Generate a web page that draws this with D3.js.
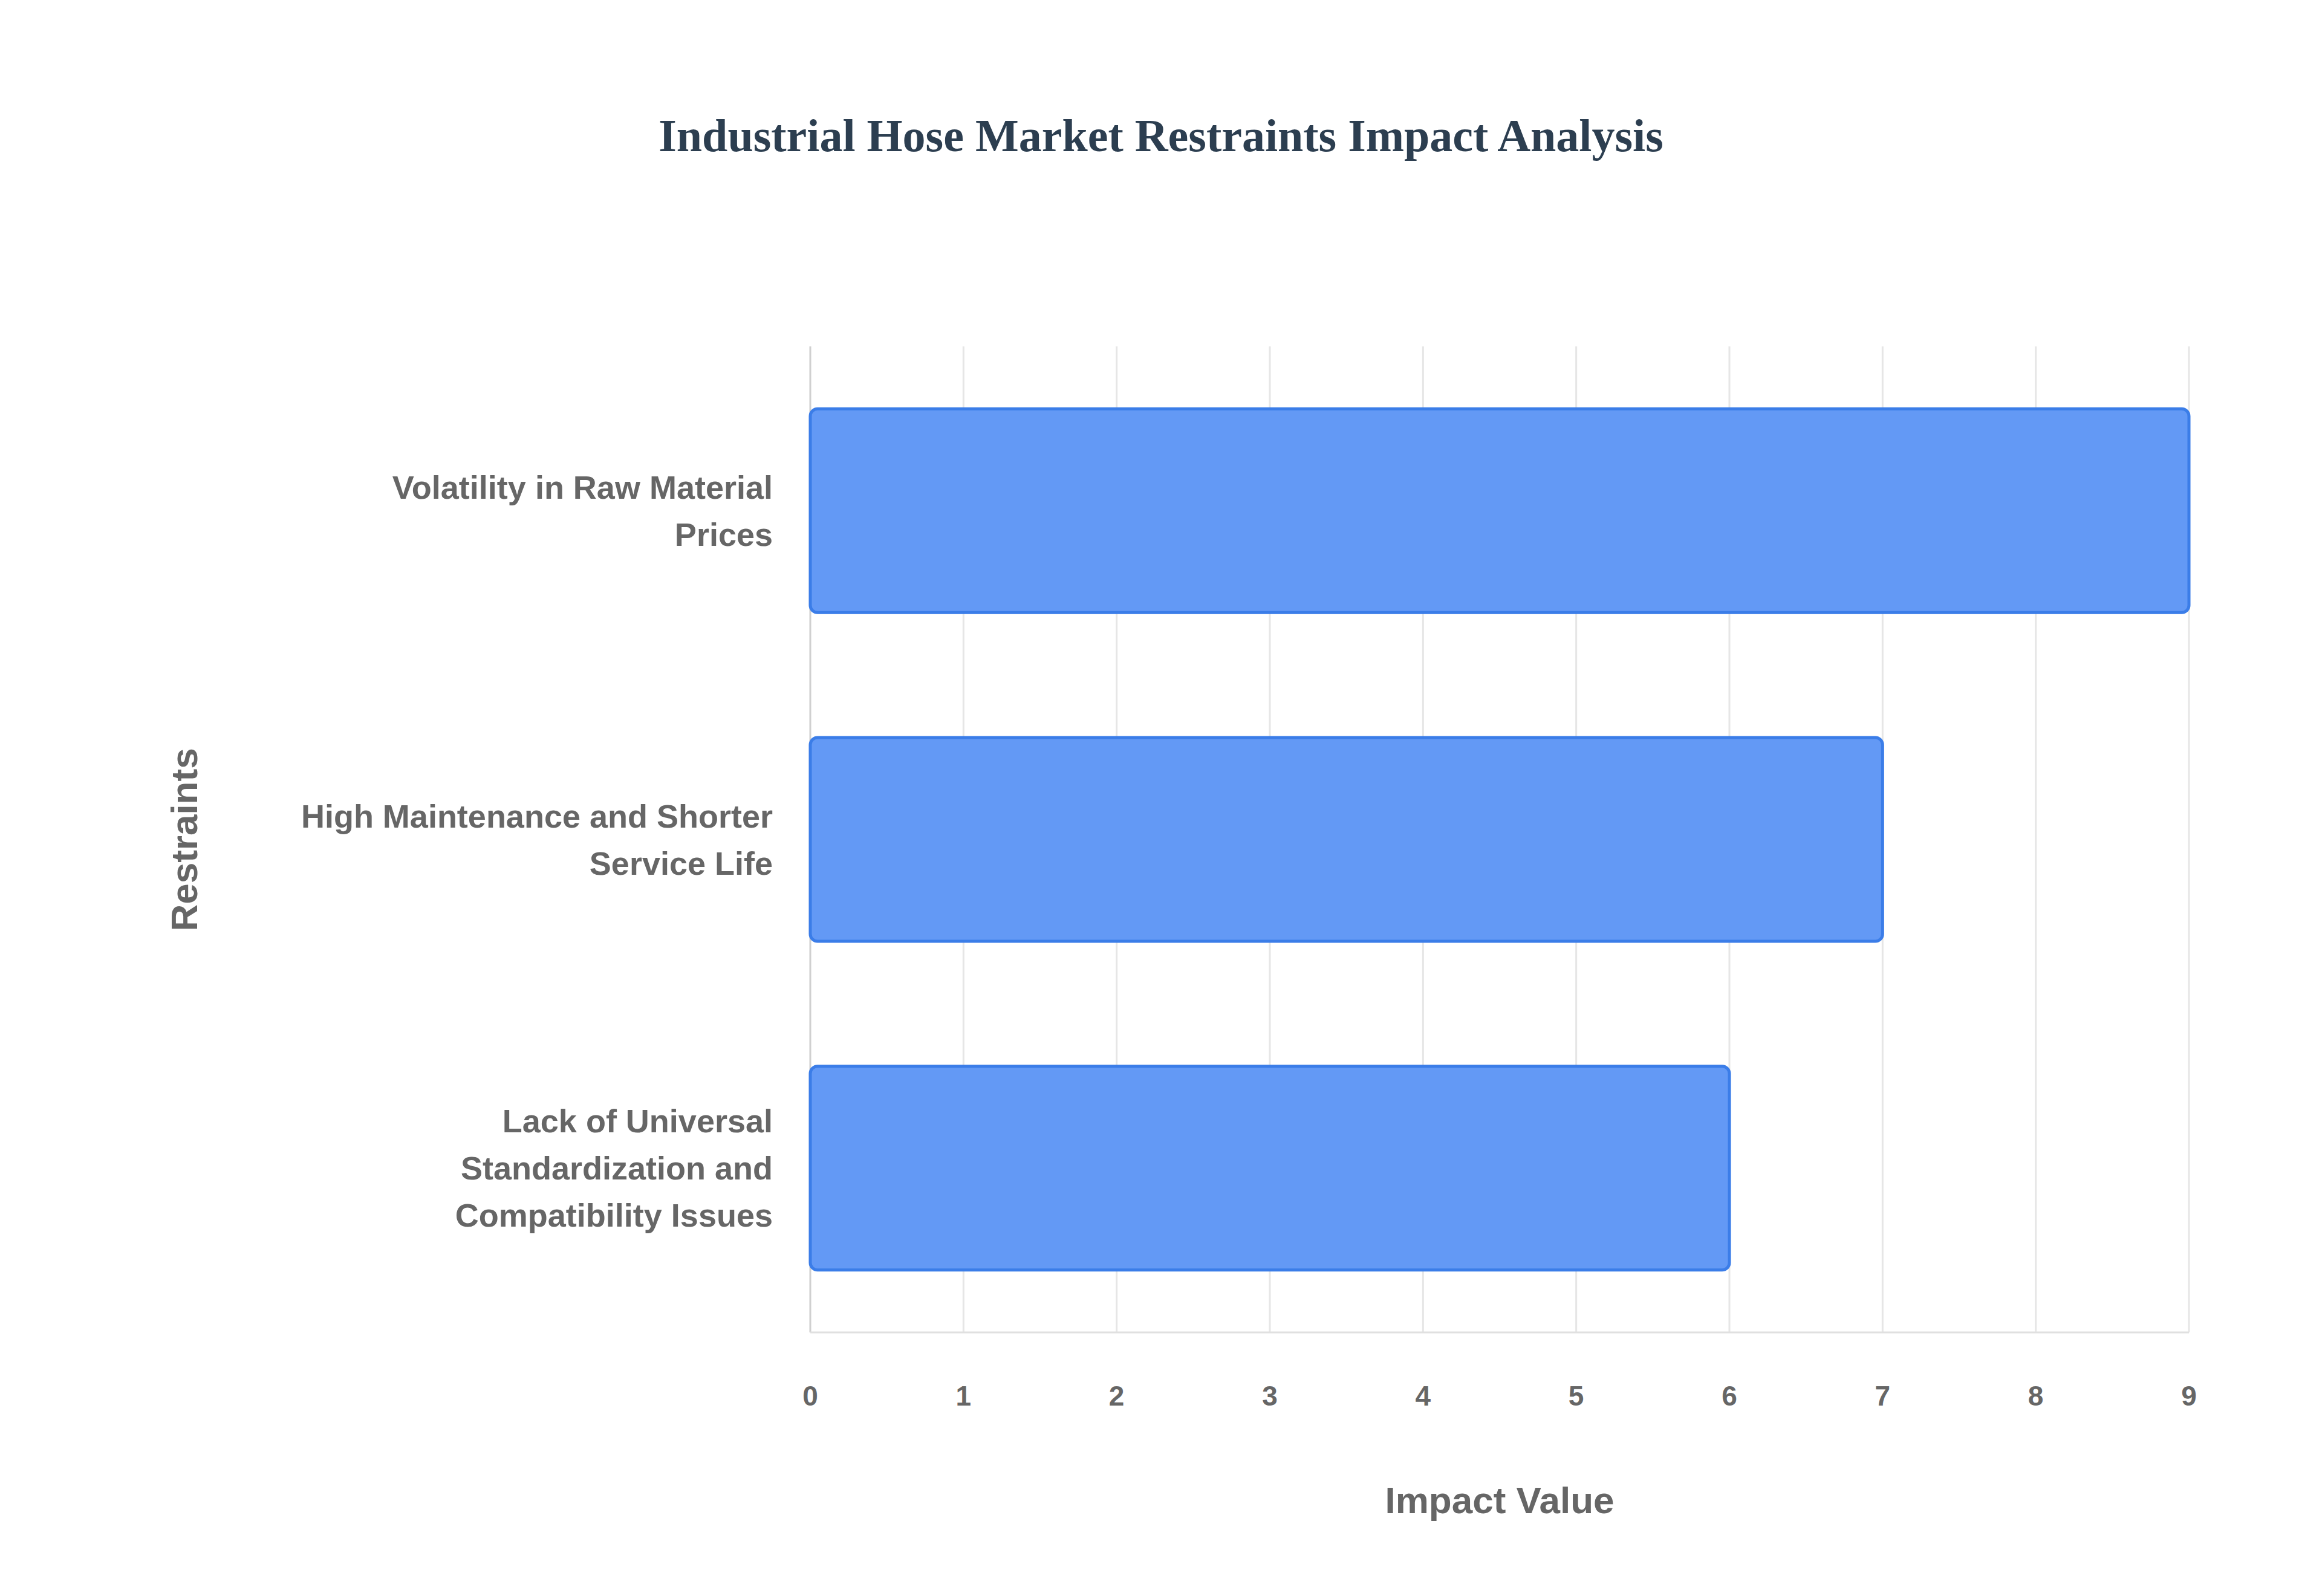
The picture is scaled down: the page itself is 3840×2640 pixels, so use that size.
<!DOCTYPE html>
<html><head><meta charset="utf-8">
<script src="https://cdn.jsdelivr.net/npm/d3@7"></script>
<style>body{margin:0;background:#fff}</style></head>
<body><svg id="c" width="3840" height="2640"></svg>
<script>
const categories = [["Volatility in Raw Material","Prices"],["High Maintenance and Shorter","Service Life"],["Lack of Universal","Standardization and","Compatibility Issues"]];
const values = [9, 7, 6];
const ticks = [0,1,2,3,4,5,6,7,8,9];

const svg = d3.select("#c");
const m = {l:1340, r:3620, t:573, b:2204};
const x = d3.scaleLinear().domain([0,9]).range([m.l, m.r]);
const y = d3.scaleBand().domain(d3.range(categories.length)).range([m.t, m.b]).paddingInner(0.38).paddingOuter(0.19);
const font = "'Liberation Sans', Arial, sans-serif";

svg.append("text").attr("x",1920).attr("y",250).attr("text-anchor","middle")
  .attr("font-family","'Liberation Serif', 'Times New Roman', serif").attr("font-weight","bold")
  .attr("font-size",76).attr("fill","#2c3e50").text("Industrial Hose Market Restraints Impact Analysis");

svg.append("g").selectAll("line").data(ticks).join("line")
  .attr("x1",d=>x(d)).attr("x2",d=>x(d)).attr("y1",m.t).attr("y2",m.b)
  .attr("stroke",d=>d===0?"#d0d0d0":"#e6e6e6").attr("stroke-width",3);
svg.append("line").attr("x1",m.l).attr("x2",m.r).attr("y1",m.b).attr("y2",m.b).attr("stroke","#e0e0e0").attr("stroke-width",3);

svg.append("g").selectAll("rect").data(values).join("rect")
  .attr("x",x(0)).attr("y",(d,i)=>y(i)).attr("width",d=>x(d)-x(0)).attr("height",y.bandwidth())
  .attr("rx",12).attr("fill","#6399f5").attr("stroke","#3b7de8").attr("stroke-width",5);

svg.append("g").selectAll("text").data(ticks).join("text")
  .attr("x",d=>x(d)).attr("y",2325).attr("text-anchor","middle")
  .attr("font-family",font).attr("font-weight","bold").attr("font-size",46).attr("fill","#666").text(d=>d);

categories.forEach((lines,i)=>{
  const cy = y(i)+y.bandwidth()/2, lh=78;
  const t = svg.append("text").attr("text-anchor","end").attr("font-family",font).attr("font-weight","bold")
    .attr("font-size",54).attr("fill","#666");
  lines.forEach((s,j)=>t.append("tspan").attr("x",1278).attr("y",cy+(j-(lines.length-1)/2)*lh+19).text(s));
});

svg.append("text").attr("x",(m.l+m.r)/2).attr("y",2503).attr("text-anchor","middle")
  .attr("font-family",font).attr("font-weight","bold").attr("font-size",62).attr("fill","#666").text("Impact Value");
svg.append("text").attr("transform","translate(326,1389) rotate(-90)").attr("text-anchor","middle")
  .attr("font-family",font).attr("font-weight","bold").attr("font-size",62).attr("fill","#666").text("Restraints");
</script></body></html>
